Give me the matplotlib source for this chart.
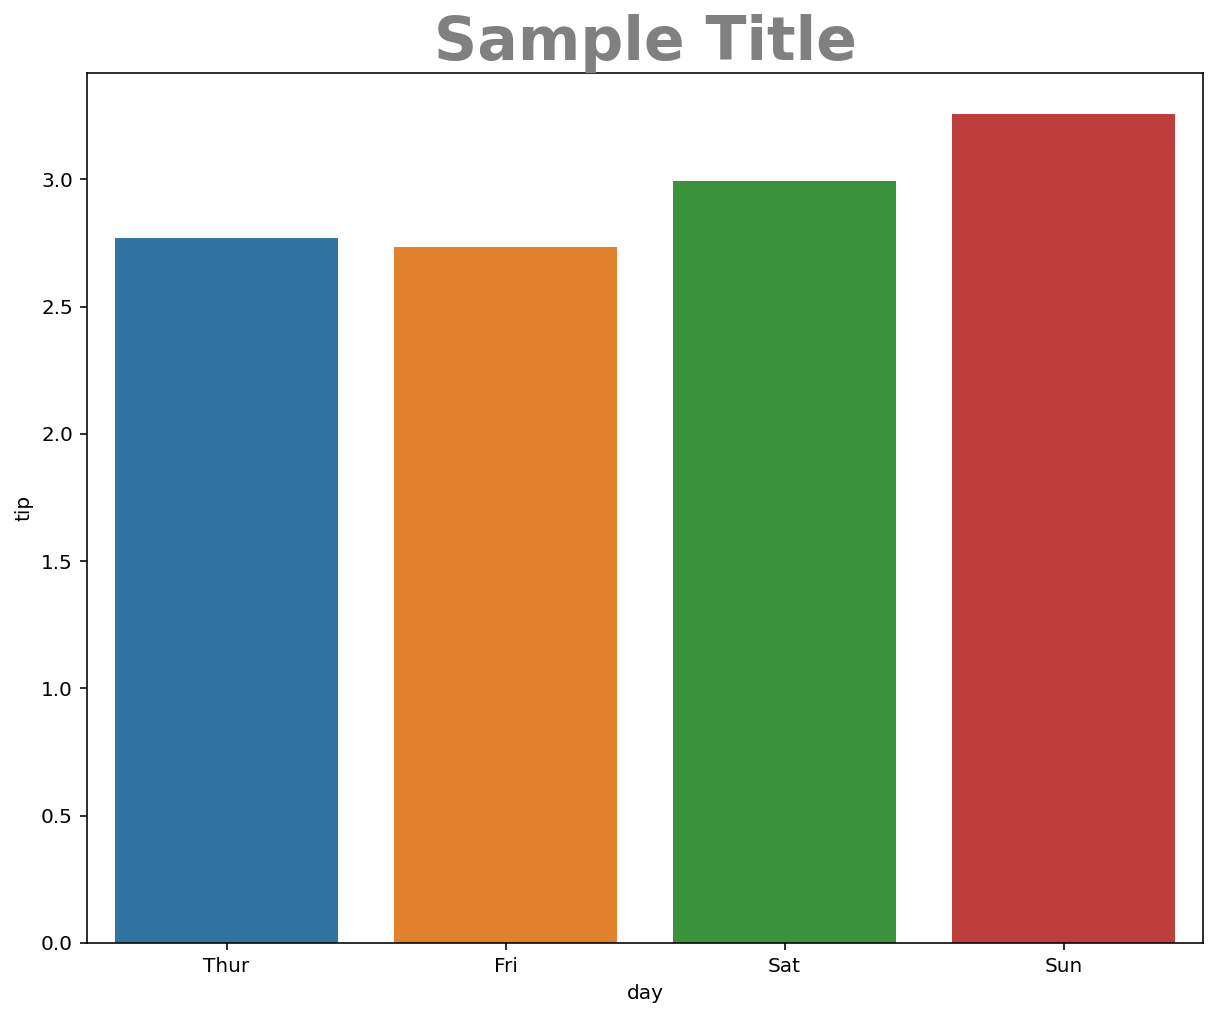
import matplotlib
matplotlib.use("Agg")
import matplotlib.pyplot as plt

days = ["Thur", "Fri", "Sat", "Sun"]
mean_tip = [2.771, 2.734, 2.993, 3.255]
bar_colors = ["#3274a1", "#e1812c", "#3a923a", "#c03d3e"]

fig = plt.figure(figsize=(1217 / 144, 1017 / 144), dpi=144)
ax = fig.add_axes([87 / 1217, 1 - 943 / 1017, (1203 - 87) / 1217, (943 - 73) / 1017])

ax.bar(range(len(days)), mean_tip, width=0.8, color=bar_colors)
ax.set_xticks(range(len(days)))
ax.set_xticklabels(days)
ax.set_xlim(-0.5, len(days) - 0.5)
ax.set_ylim(0, max(mean_tip) * 1.05)
ax.set_xlabel("day")
ax.set_ylabel("tip")
ax.set_title("Sample Title", fontsize=30, fontweight="bold", color="gray", pad=2)

fig.savefig("out.png", dpi=144)
